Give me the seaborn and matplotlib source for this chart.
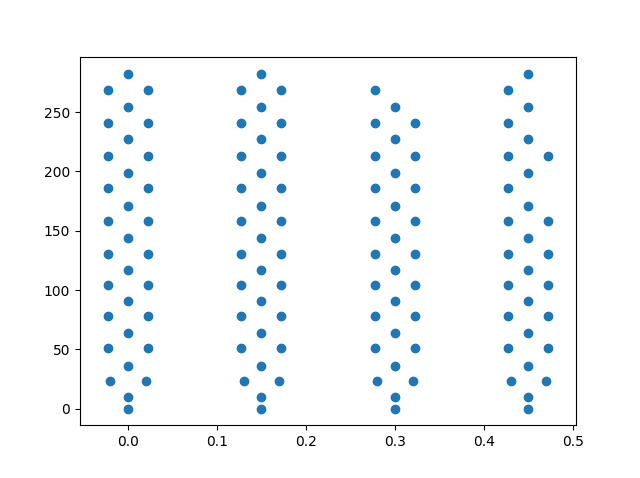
import matplotlib
matplotlib.use("Agg")
import matplotlib.pyplot as plt
import seaborn as sns
import pandas as pd

# Group centres on the x axis
group_x = [0.0, 0.15, 0.30, 0.45]

# Horizontal spread of the side points
side_dx = 0.0225
low_dx = 0.020   # the lowest side row sits slightly closer in

# y values of each group: centre column, left column, right column
g0_centre = [0, 10, 36, 64, 91, 117, 144, 171, 199, 227, 254, 282]
g0_left = [23, 51, 78, 104, 130, 158, 186, 213, 241, 269]
g0_right = [23, 51, 78, 104, 130, 158, 186, 213, 241, 269]

g1_centre = [0, 10, 36, 64, 91, 117, 144, 171, 199, 227, 254, 282]
g1_left = [23, 51, 78, 104, 130, 158, 186, 213, 241, 269]
g1_right = [23, 51, 78, 104, 130, 158, 186, 213, 241, 269]

g2_centre = [0, 10, 36, 64, 91, 117, 144, 171, 199, 227, 254]
g2_left = [23, 51, 78, 104, 130, 158, 186, 213, 241, 269]
g2_right = [23, 51, 78, 104, 130, 158, 186, 213, 241]

g3_centre = [0, 10, 36, 64, 91, 117, 144, 171, 199, 227, 254, 282]
g3_left = [23, 51, 78, 104, 130, 158, 186, 213, 241, 269]
g3_right = [23, 51, 78, 104, 130, 158, 213]

groups = [
    (g0_centre, g0_left, g0_right),
    (g1_centre, g1_left, g1_right),
    (g2_centre, g2_left, g2_right),
    (g3_centre, g3_left, g3_right),
]

xs, ys = [], []
for gx, (centre, left, right) in zip(group_x, groups):
    for v in centre:
        xs.append(gx)
        ys.append(v)
    for v in left:
        d = low_dx if v == min(left) else side_dx
        xs.append(gx - d)
        ys.append(v)
    for v in right:
        d = low_dx if v == min(right) else side_dx
        xs.append(gx + d)
        ys.append(v)

df = pd.DataFrame({"x": xs, "y": ys})

plt.rcParams["font.family"] = ["DejaVu Sans"]
fig, ax = plt.subplots(figsize=(6.4, 4.78), dpi=100)
sns.scatterplot(data=df, x="x", y="y", ax=ax, color="#1f77b4",
                s=36, edgecolor="#1f77b4", linewidth=1.0, legend=False)
ax.set_xlim(-0.0537, 0.5034)
ax.set_xticks([0.0, 0.1, 0.2, 0.3, 0.4, 0.5])
ax.set_yticks([0, 50, 100, 150, 200, 250])
ax.set_xlabel("")
ax.set_ylabel("")
fig.subplots_adjust(left=0.125, right=0.9, bottom=0.11, top=0.88)
fig.savefig("out.png", dpi=100)
